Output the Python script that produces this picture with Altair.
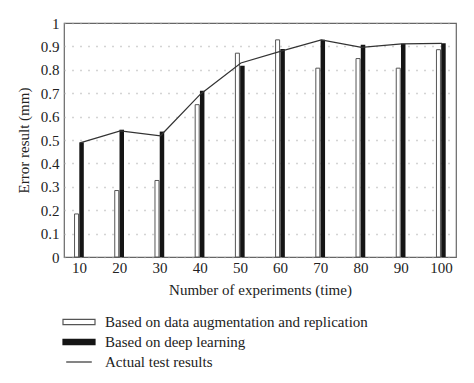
import altair as alt
import pandas as pd

experiments = [10, 20, 30, 40, 50, 60, 70, 80, 90, 100]
augmentation = [0.184, 0.284, 0.327, 0.651, 0.871, 0.928, 0.807, 0.848, 0.807, 0.886]
deep_learning = [0.490, 0.544, 0.536, 0.711, 0.817, 0.889, 0.928, 0.907, 0.911, 0.913]
actual = [0.488, 0.539, 0.518, 0.697, 0.829, 0.880, 0.928, 0.896, 0.911, 0.913]

series_names = [
    "Based on data augmentation and replication",
    "Based on deep learning",
    "Actual test results",
]
y_ticks = [0, 0.1, 0.2, 0.3, 0.4, 0.5, 0.6, 0.7, 0.8, 0.9, 1]

df = pd.DataFrame({
    "exp": experiments,
    "aug": augmentation,
    "deep": deep_learning,
    "actual": actual,
})
legend_df = pd.DataFrame({"series": series_names})

FONT = "Liberation Serif"

x_scale = alt.Scale(domain=[7.5, 102.5], nice=False, zero=False)
x_axis = alt.Axis(values=experiments, title="Number of experiments (time)",
                  grid=False, ticks=False, domain=False, labelPadding=3,
                  titlePadding=7, labelOverlap=False)
y_scale = alt.Scale(domain=[0, 1], nice=False)
y_axis = alt.Axis(values=y_ticks, format=".1~f", title="Error result (mm)",
                  grid=True, gridDash=[1, 7], gridColor="#aaaaaa", gridWidth=1.3,
                  ticks=False, domain=False, labelPadding=5, titlePadding=9,
                  labelOverlap=False, tickCount=11)

x = alt.X("exp:Q", scale=x_scale, axis=x_axis)

base = alt.Chart(df)

aug_bars = base.mark_bar(width=4, xOffset=-2.5, fill="white", stroke="#555555",
                         strokeWidth=1).encode(
    x=x,
    y=alt.Y("aug:Q", scale=y_scale, axis=y_axis),
)
deep_bars = base.mark_bar(width=4.5, xOffset=2.5, fill="#151515").encode(
    x=x, y=alt.Y("deep:Q", scale=y_scale, axis=y_axis),
)
line = base.mark_line(color="#333333", strokeWidth=1.2, xOffset=1).encode(
    x=x, y=alt.Y("actual:Q", scale=y_scale, axis=y_axis),
)

rect_path = "M-2,-0.34H2V0.34H-2Z"
line_path = "M-1.6,0H1.6"
legend_layer = alt.Chart(legend_df).transform_filter("false").mark_point(
    opacity=1, filled=True, strokeWidth=1.2
).encode(
    x=x,
    y=alt.Y("aug:Q", scale=y_scale, axis=y_axis),
    shape=alt.Shape("series:N", scale=alt.Scale(domain=series_names,
                                                range=[rect_path, rect_path, line_path]),
                    title=None),
    fill=alt.Fill("series:N", scale=alt.Scale(domain=series_names,
                                              range=["white", "#151515", "transparent"]),
                  title=None),
    stroke=alt.Stroke("series:N", scale=alt.Scale(domain=series_names,
                                                  range=["#555555", "#151515", "#333333"]),
                      title=None),
)

chart = alt.layer(aug_bars, deep_bars, line, legend_layer).properties(
    width=392, height=234,
    autosize=alt.AutoSizeParams(type="none"),
    padding={"left": 56, "top": 15, "right": 10, "bottom": 118},
    background="white",
).configure_view(
    stroke="#666666", strokeWidth=1.2
).configure_axis(
    labelFont=FONT, titleFont=FONT, labelFontSize=15, titleFontSize=15,
    labelColor="#222222", titleColor="#222222", titleFontWeight="normal",
).configure_legend(
    orient="none", legendX=6, legendY=290, direction="vertical",
    symbolSize=256, labelFont=FONT, labelFontSize=15, labelColor="#222222",
    labelOffset=17, rowPadding=3, padding=0, symbolStrokeWidth=1.2,
    labelLimit=400,
)

chart.save("out.html", embed_options={"renderer": "svg", "actions": False})
